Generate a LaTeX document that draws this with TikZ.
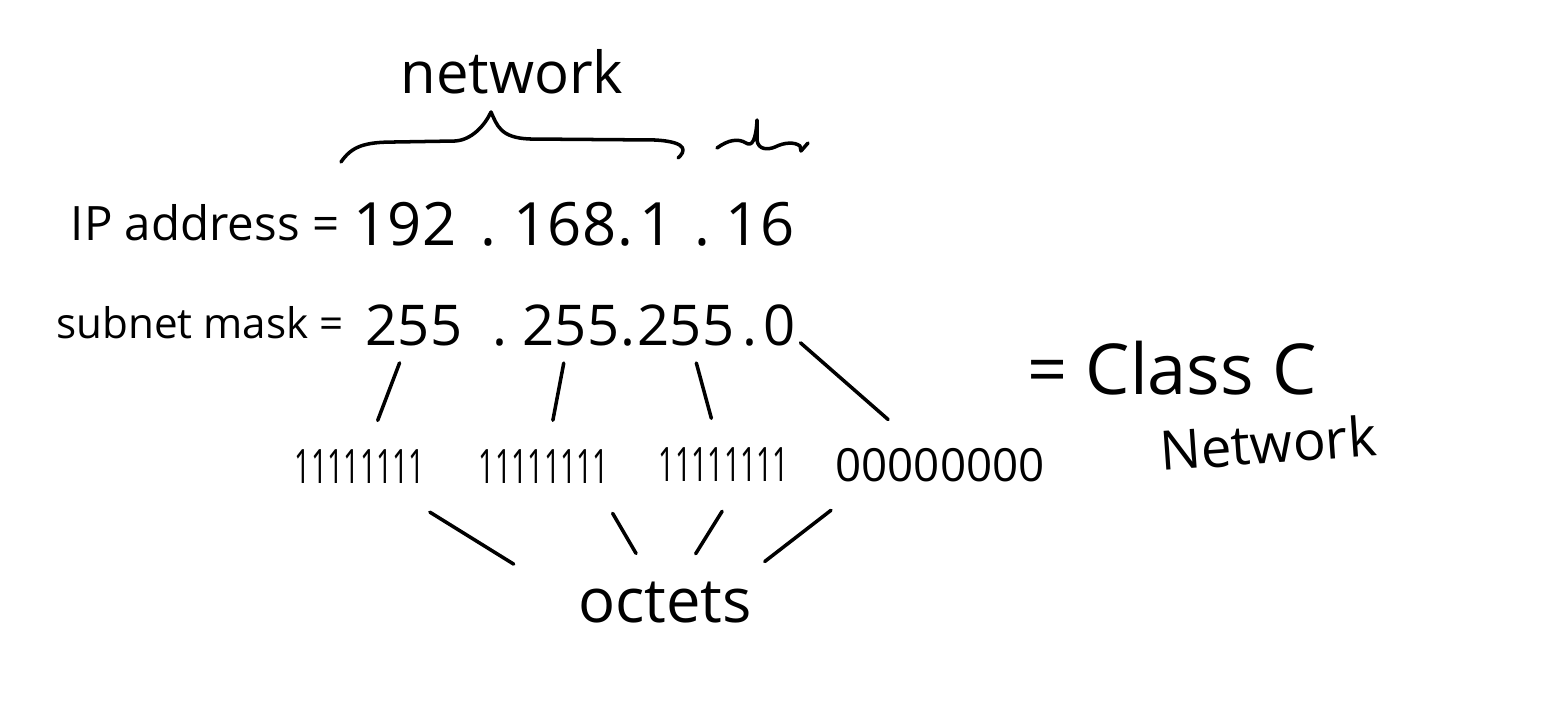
\documentclass[tikz,border=0pt]{standalone}
\usepackage{fontspec}
\setmainfont{Open Sans}
\usepackage{graphicx}
\begin{document}
\begin{tikzpicture}[x=0.02cm,y=-0.02cm,line width=2pt,line cap=round,line join=round,
  every node/.style={inner sep=0pt},
  num/.style={anchor=base,inner ysep=7pt,font=\fontsize{34}{40}\selectfont},
  mnum/.style={anchor=base,inner ysep=7pt,font=\fontsize{32}{38}\selectfont},
  bits/.style={inner ysep=14pt,font=\fontsize{27}{30}\selectfont},
  link/.style={shorten <=2pt,shorten >=2pt}]
\useasboundingbox (0,0) rectangle (1566,706);
\coordinate (nl) at (341,162);
\coordinate (nt) at (491,112);
\coordinate (nr) at (678,158);
\coordinate (hl) at (717,148);
\coordinate (ht) at (757,120);
\coordinate (hr) at (808,143);
\coordinate (i1) at (405,245);
\coordinate (i2) at (565,245);
\coordinate (i3) at (657,245);
\coordinate (i4) at (760,245);
\coordinate (m1) at (414,345);
\coordinate (m2) at (571,345);
\coordinate (m3) at (686,345);
\coordinate (m4) at (780,345);
\coordinate (o1) at (360,467);
\coordinate (o2) at (544,467);
\coordinate (o3) at (724,465);
\coordinate (o4) at (940,465);

  \node (net) at (512,72) [font=\fontsize{33}{40}\selectfont] {network};
  \draw (nl) .. controls (352,146) and (365,142) .. (395,142) -- (455,141)
    .. controls (472,140) and (485,125) .. (nt)
    .. controls (497,125) and (500,138) .. (530,139) -- (655,140)
    .. controls (690,142) and (685,152) .. (nr);
  \draw (hl) .. controls (728,140) and (738,138) .. (746,143)
    .. controls (752,147) and (756,140) .. (ht) -- (757,140)
    .. controls (758,150) and (768,150) .. (775,147)
    .. controls (785,142) and (795,142) .. (800,146) -- (801,151) -- (hr);

  \node (ip) at (205,240) [anchor=base,font=\fontsize{27}{32}\selectfont] {IP address =};
  \node (ip1) at (i1) [num] {192};
  \node (ipd1) at (488,245) [num] {.};
  \node (ip2) at (i2) [num] {168};
  \node (ipd2) at (625,245) [num] {.};
  \node (ip3) at (i3) [num] {1};
  \node (ipd3) at (702,245) [num] {.};
  \node (ip4) at (i4) [num] {16};

  \node (mask) at (200,338) [anchor=base,font=\fontsize{24}{30}\selectfont] {subnet mask =};
  \node (mk1) at (m1) [mnum] {255};
  \node (mkd1) at (500,345) [mnum] {.};
  \node (mk2) at (m2) [mnum] {255};
  \node (mkd2) at (628,345) [mnum] {.};
  \node (mk3) at (m3) [mnum] {255};
  \node (mkd3) at (750,345) [mnum] {.};
  \node (mk4) at (m4) [mnum] {0};

  \node (b1) at (o1) [bits] {\scalebox{0.6}[1]{11111111}};
  \node (b2) at (o2) [bits] {\scalebox{0.6}[1]{11111111}};
  \node (b3) at (o3) [bits] {\scalebox{0.6}[1]{11111111}};
  \node (b4) at (o4) [bits,font=\fontsize{26}{30}\selectfont] {00000000};

  \node (oct) at (665,603) [inner ysep=6pt,font=\fontsize{35}{40}\selectfont] {octets};

  \node (cls) at (1172,368) [font=\fontsize{40}{46}\selectfont] {= Class C};
  \node (clsnet) at (1268,443) [rotate=4,font=\fontsize{31}{36}\selectfont] {Network};

  \draw[link] (mk1) to[] (b1);
  \draw[link] (mk2) to[] (b2);
  \draw[link] (mk3) to[] (b3);
  \draw[link] (mk4) to[] (b4);
  \draw[link,shorten >=42pt] (b1.south east) to[] (oct.west);
  \draw[link,shorten >=11pt] (b2.south east) to[] (oct);
  \draw[link,shorten >=11pt] (b3.south) to[] (oct);
  \draw[link,shorten >=8pt] (b4.south west) to[] (oct.north east);
\end{tikzpicture}
\end{document}
